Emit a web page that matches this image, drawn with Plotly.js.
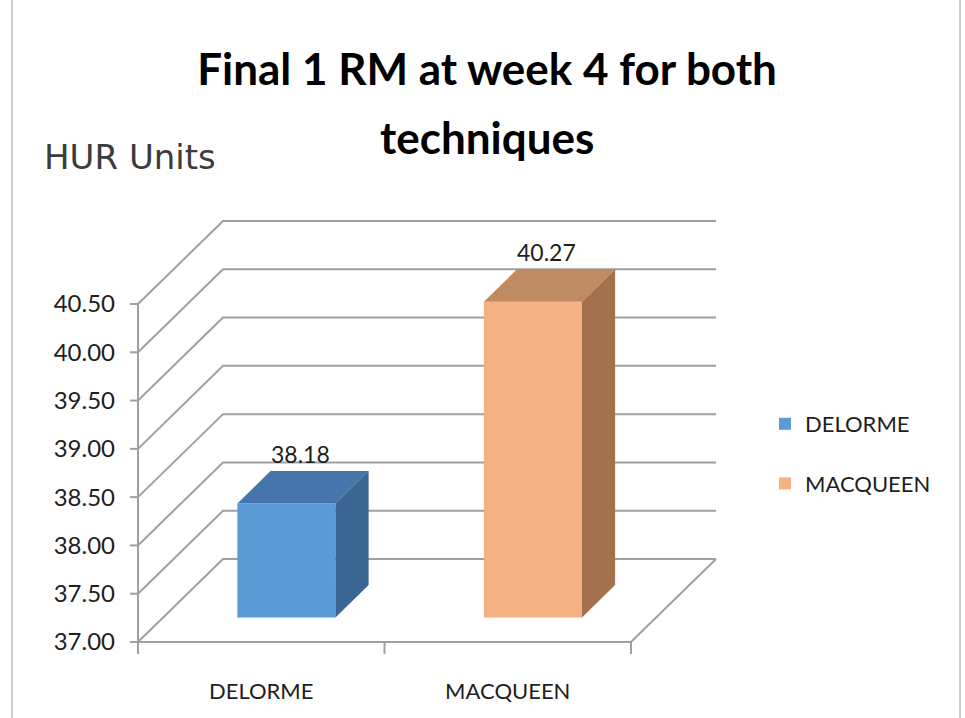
<!DOCTYPE html>
<html><head><meta charset="utf-8">
<script src="https://cdn.plot.ly/plotly-3.0.1.min.js"></script>
<style>html,body{margin:0;padding:0;background:#fff;} #chart{width:965px;height:718px;}</style>
</head><body><div id="chart"></div>
<script>
// ---- data ----
const categories = ['DELORME', 'MACQUEEN'];
const seriesNames = ['DELORME', 'MACQUEEN'];
const values = [38.18, 40.27];
const yTickVals = [37.0, 37.5, 38.0, 38.5, 39.0, 39.5, 40.0, 40.5];
const yTickText = ['37.00', '37.50', '38.00', '38.50', '39.00', '39.50', '40.00', '40.50'];
const titleLines = ['Final 1 RM at week 4 for both', 'techniques'];
const yUnitText = 'HUR Units';

// ---- style ----
const FONT = 'Lato, sans-serif';
const frontColors = ['#5b9bd5', '#f4b183'];
const topColors = ['#4575aa', '#c08a62'];
const sideColors = ['#3b6592', '#a3714e'];
const gridColor = '#a0a0a0';
const textColor = '#1e1e1e';

const W = 965, H = 718;
const M = {l: 128, r: 243, t: 219, b: 62};
const plotW = W - M.l - M.r, plotH = H - M.t - M.b;
const pxPerX = 246.5, pxPerY = 96.57;
const axisPx = 138, basePy = 642;
const xMin = -0.5 - (axisPx - M.l) / pxPerX;
const xMax = xMin + plotW / pxPerX;
const yBase = yTickVals[0];
const yTop = yTickVals[yTickVals.length - 1];
const yMin = yBase - (H - M.b - basePy) / pxPerY;
const yMax = yMin + plotH / pxPerY;
const DX = 85 / pxPerX, DY = 83 / pxPerY;      // depth of the box
const fF = 0.296, fB = 0.686, barW = 0.398;     // bar depth position and width
const nCat = categories.length;
const xLeft = -0.5, xRight = nCat - 0.5;

const px2paperX = p => (p - M.l) / plotW;
const px2paperY = p => (H - M.b - p) / plotH;

const shapes = [];
const line = {color: gridColor, width: 2};
// walls / gridlines
yTickVals.forEach(v => {
  shapes.push({type: 'path', xref: 'x', yref: 'y', layer: 'below', line: line,
    path: `M ${xLeft},${v} L ${xLeft + DX},${v + DY} L ${xRight + DX},${v + DY}`});
  shapes.push({type: 'path', xref: 'x', yref: 'y', layer: 'below', line: line,
    path: `M ${xLeft - 8 / pxPerX},${v} L ${xLeft},${v}`});
});
// floor front edge and right edge
shapes.push({type: 'path', xref: 'x', yref: 'y', layer: 'below', line: line,
  path: `M ${xLeft},${yBase} L ${xRight},${yBase} L ${xRight + DX},${yBase + DY}`});
// value axis line
shapes.push({type: 'path', xref: 'x', yref: 'y', layer: 'below', line: line,
  path: `M ${xLeft},${yBase} L ${xLeft},${yTop}`});
// category tick marks at boundaries
for (let k = 0; k <= nCat; k++) {
  const b = xLeft + k;
  shapes.push({type: 'path', xref: 'x', yref: 'y', layer: 'below', line: line,
    path: `M ${b},${yBase} L ${b},${yBase - 12 / pxPerY}`});
}
// 3D faces of bars
const ddx = (fB - fF) * DX, ddy = (fB - fF) * DY;
const annotations = [];
values.forEach((v, i) => {
  const cx = i + fF * DX;
  const x0 = cx - barW / 2, x1 = cx + barW / 2;
  const yt = v + fF * DY, yb = yBase + fF * DY;
  shapes.push({type: 'path', xref: 'x', yref: 'y', layer: 'above', line: {width: 0},
    fillcolor: topColors[i],
    path: `M ${x0},${yt} L ${x1},${yt} L ${x1 + ddx},${yt + ddy} L ${x0 + ddx},${yt + ddy} Z`});
  shapes.push({type: 'path', xref: 'x', yref: 'y', layer: 'above', line: {width: 0},
    fillcolor: sideColors[i],
    path: `M ${x1},${yt} L ${x1 + ddx},${yt + ddy} L ${x1 + ddx},${yb + ddy} L ${x1},${yb} Z`});
  annotations.push({xref: 'x', yref: 'y', x: cx + ddx * 0.42, y: v + fB * DY, yshift: 17,
    text: v.toFixed(2), showarrow: false, xanchor: 'center', yanchor: 'middle',
    font: {family: FONT, size: 23, color: textColor}});
});
// chart border lines
[12, 960].forEach(p => {
  shapes.push({type: 'line', xref: 'paper', yref: 'paper', layer: 'above',
    x0: px2paperX(p), x1: px2paperX(p), y0: px2paperY(H), y1: px2paperY(0),
    line: {color: '#c0c0c0', width: 1.5}});
});
annotations.push({xref: 'paper', yref: 'paper', x: px2paperX(42), y: px2paperY(157),
  xanchor: 'left', yanchor: 'middle', text: yUnitText, showarrow: false,
  font: {family: 'DejaVu Sans', size: 34, color: '#3c3c3c'}});
// second title line
annotations.push({xref: 'paper', yref: 'paper', x: px2paperX(487), y: px2paperY(137),
  xanchor: 'center', yanchor: 'middle', text: titleLines[1], showarrow: false,
  font: {family: FONT, size: 44, weight: 700, color: '#000'}});

const traces = values.map((v, i) => ({
  type: 'bar', x: [i + fF * DX], y: [v - yBase], base: [yBase + fF * DY], width: [barW],
  marker: {color: frontColors[i], line: {width: 0}}, name: seriesNames[i],
  legendgroup: 'g' + i, hoverinfo: 'skip', textposition: 'none'
}));

const layout = {
  width: W, height: H, margin: M, paper_bgcolor: '#fff', plot_bgcolor: 'rgba(0,0,0,0)',
  barmode: 'overlay', showlegend: true,
  title: {text: titleLines[0], xref: 'container', yref: 'container', x: 487 / W, xanchor: 'center',
    y: 1 - 70 / H, yanchor: 'middle',
    font: {family: FONT, size: 44, weight: 700, color: '#000'}},
  xaxis: {range: [xMin, xMax], tickvals: categories.map((c, i) => i), ticktext: categories,
    ticks: '', showgrid: false, zeroline: false, showline: false, automargin: false,
    ticklabelstandoff: 20, tickfont: {family: FONT, size: 22, color: textColor}, fixedrange: true},
  yaxis: {range: [yMin, yMax], tickvals: yTickVals, ticktext: yTickText,
    ticks: '', showgrid: false, zeroline: false, showline: false, automargin: false,
    ticklabelstandoff: 12, tickfont: {family: FONT, size: 24, color: textColor}, fixedrange: true},
  legend: {xref: 'container', yref: 'container', x: 765 / W, y: 1 - 403 / H,
    xanchor: 'left', yanchor: 'top', traceorder: 'grouped', tracegroupgap: 28,
    font: {family: FONT, size: 22, color: textColor}, bgcolor: 'rgba(0,0,0,0)'},
  shapes: shapes, annotations: annotations
};
Plotly.newPlot('chart', traces, layout, {staticPlot: true, displayModeBar: false});
</script>
</body></html>
